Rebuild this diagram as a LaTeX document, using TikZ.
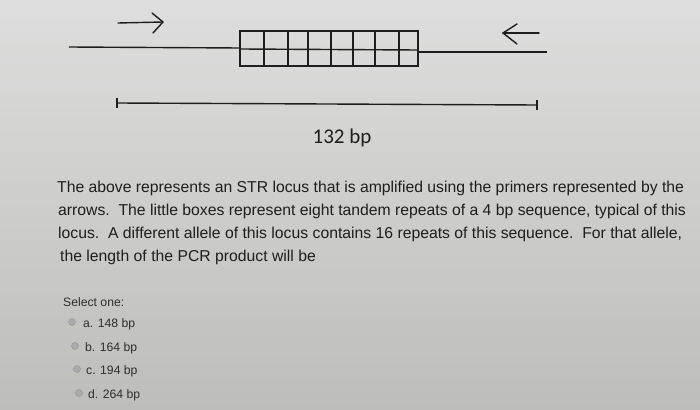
\documentclass[tikz,border=0pt]{standalone}
\usepackage{fontspec}
\setmainfont{Liberation Sans}
\newfontfamily\calib{Carlito}
\definecolor{bgtop}{HTML}{DEDEDE}
\definecolor{bgbot}{HTML}{BDBDBA}
\definecolor{ink}{HTML}{1E1E1E}
\definecolor{optink}{HTML}{2E2E2E}
\definecolor{radio}{HTML}{ABABAB}
\begin{document}
\begin{tikzpicture}[x=1pt,y=-1pt,
  dna/.style={line width=1.4pt,ink},
  para/.style={anchor=base west,inner sep=0pt,text=ink,font=\fontsize{15.75}{18}\selectfont},
  opt/.style={anchor=base west,inner sep=0pt,text=optink,font=\fontsize{12.2}{14}\selectfont},
  rad/.style={circle,minimum size=7pt,inner sep=0pt,fill=radio,draw=radio!80!black,line width=0.3pt}]
\shade[top color=bgtop,bottom color=bgbot] (0,0) rectangle (700,409);
\useasboundingbox (0,0) rectangle (700,409);
% DNA line
\draw[dna] (69,47) -- (240,48);
\draw[dna] (418,52) -- (547,52);
% repeat box
\draw[dna] (240,31) rectangle (418,66);
\draw[dna] (240,49) -- (418,50);
\foreach \xx in {264,288,308,331,353,375,399}{
  \draw[dna] (\xx,31) -- (\xx,66);
}
% primers
\draw[dna,line cap=round,line join=round] (118,23) -- (163,22);
\draw[dna,line cap=round,line join=round] (152,13) -- (163,22) -- (153,33);
\draw[dna,line cap=round,line join=round] (539,33) -- (503,33);
\draw[dna,line cap=round,line join=round] (517,24) -- (503,33) -- (517,44);
% scale bar
\draw[dna] (117,103) -- (537,105);
\draw[dna] (117,98) -- (117,108);
\draw[dna] (537,100) -- (537,110);
\node[anchor=base,inner sep=0pt,text=ink,font=\calib\fontsize{21}{24}\selectfont] (len) at (342,143) {132 bp};
% paragraph
\node[para] (l1) at (57,192) {The above represents an STR locus that is amplified using the primers represented by the};
\node[para] (l2) at (58,215) {arrows.\ \ The little boxes represent eight tandem repeats of a 4 bp sequence, typical of this};
\node[para] (l3) at (58,238) {locus.\ \ A different allele of this locus contains 16 repeats of this sequence.\ \ For that allele,};
\node[para] (l4) at (60,261) {the length of the PCR product will be};
% options
\node[opt] (sel) at (63,306) {Select one:};
\node[rad] (ra) at (72,322) {};
\node[rad] (rb) at (75,346) {};
\node[rad] (rc) at (77,369) {};
\node[rad] (rd) at (79,393) {};
\node[opt] (oa) at (83,327) {a. 148 bp};
\node[opt] (ob) at (85,351) {b. 164 bp};
\node[opt] (oc) at (86,374) {c. 194 bp};
\node[opt] (od) at (88,398) {d. 264 bp};
\end{tikzpicture}
\end{document}
